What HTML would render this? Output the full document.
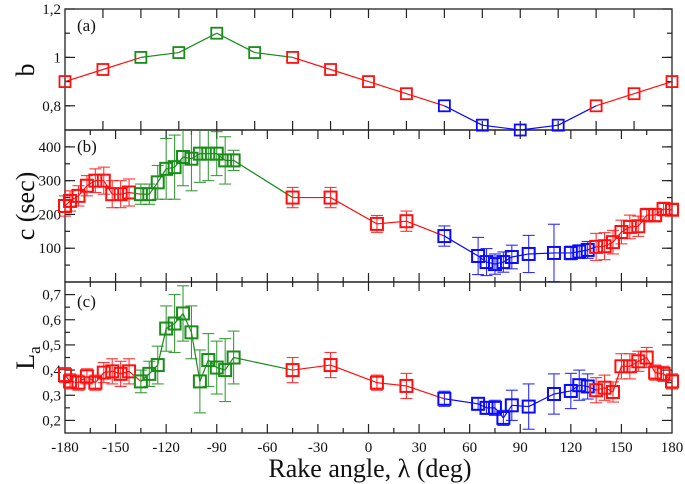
<!DOCTYPE html>
<html><head><meta charset="utf-8"><style>
html,body{margin:0;padding:0;background:#fff;}
svg{display:block;font-family:"Liberation Serif",serif;}
</style></head><body>
<svg id="chart" width="685" height="484" viewBox="0 0 685 484"></svg>
<script>
// ---- data ----
const aAngles = [-180,-157.5,-135,-112.5,-90,-67.5,-45,-22.5,0,22.5,45,67.5,90,112.5,135,157.5,180];
const aValues = [0.9,0.95,1.0,1.02,1.1,1.02,1.0,0.95,0.9,0.85,0.8,0.72,0.7,0.72,0.8,0.85,0.9];
const aGroups = ['r','r','g','g','g','g','r','r','r','r','b','b','b','b','r','r','r'];

const bAngles = [-180,-177,-172,-167,-162,-157,-152,-147,-142,-135,-130,-125,-120,-115,-110,-105,-100,-95,-90,-85,-80,-45,-22.5,5,22.5,45,65,70,75,80,85,95,110,120,125,130,135,140,145,150,155,160,165,170,175,180];
const bValues = [225,240,255,285,300,300,260,260,265,260,260,295,335,340,370,365,380,380,380,360,360,250,250,172,180,136,77,59,53,59,74,83,86,86,90,95,104,106,118,148,163,165,198,198,216,214];
const bErrors = [30,30,30,30,35,40,40,40,40,30,30,50,90,95,85,95,85,80,65,70,30,30,30,25,30,30,55,40,30,30,35,55,85,20,20,25,40,40,35,35,35,30,20,20,20,15];
const bGroups = ['r','r','r','r','r','r','r','r','r','g','g','g','g','g','g','g','g','g','g','g','g','r','r','r','r','b','b','b','b','b','b','b','b','b','b','b','r','r','r','r','r','r','r','r','r','r'];

const cAngles = bAngles;
const cValues = [0.38,0.355,0.35,0.375,0.35,0.39,0.395,0.385,0.395,0.355,0.385,0.42,0.565,0.585,0.625,0.55,0.355,0.44,0.41,0.40,0.45,0.40,0.42,0.35,0.337,0.286,0.266,0.25,0.25,0.21,0.26,0.255,0.305,0.317,0.34,0.335,0.32,0.33,0.313,0.415,0.415,0.435,0.45,0.39,0.385,0.355];
const cErrors = [0.03,0.03,0.03,0.03,0.03,0.04,0.05,0.05,0.05,0.045,0.05,0.075,0.09,0.115,0.11,0.105,0.125,0.105,0.105,0.125,0.105,0.05,0.05,0.03,0.05,0.03,0.025,0.025,0.03,0.03,0.06,0.09,0.08,0.07,0.06,0.05,0.05,0.05,0.04,0.05,0.05,0.04,0.04,0.03,0.03,0.03];
const cGroups = bGroups;

const xTickLabels = ['-180','-150','-120','-90','-60','-30','0','30','60','90','120','150','180'];
const aTickLabels = ['0,8','1','1,2'];
const bTickLabels = ['100','200','300','400'];
const cTickLabels = ['0,2','0,3','0,4','0,5','0,6','0,7'];

// ---- layout ----
const NS='http://www.w3.org/2000/svg';
const svg=document.getElementById('chart');
const L=65,R=672;
const colors={r:'#ff1010',g:'#1a8c1a',b:'#0a0aff'};
function x(v){return L+(v+180)/360*(R-L);}
function mk(tag,attrs,parent){const e=document.createElementNS(NS,tag);for(const k in attrs)e.setAttribute(k,attrs[k]);(parent||svg).appendChild(e);return e;}

const panels=[
 {top:9,bot:130,min:0.7,max:1.2,name:'panel-a'},
 {top:130,bot:282,min:0,max:450,name:'panel-b'},
 {top:282,bot:433,min:0.15,max:0.75,name:'panel-c'}
];
function yf(p){return v=>p.bot-(v-p.min)/(p.max-p.min)*(p.bot-p.top);}

function drawSeries(p,ang,val,err,grp,sz,sw,tag){
 const y=yf(p);
 const g=mk('g',{});
 
 
 for(let i=0;i<ang.length-1;i++){
  const ln=mk('line',{x1:x(ang[i]),y1:y(val[i]),x2:x(ang[i+1]),y2:y(val[i+1]),stroke:colors[grp[i]],'stroke-width':1.2},g);
  
  
 }
 for(let i=0;i<ang.length;i++){
  const c=colors[grp[i]],cx=x(ang[i]),cy=y(val[i]);
  if(err){
   const t=Math.max(p.top,y(val[i]+err[i])),b=Math.min(p.bot,y(val[i]-err[i]));
   const eg=mk('g',{stroke:c,'stroke-width':1.1,opacity:0.85},g);
   
   
   mk('line',{x1:cx,y1:t,x2:cx,y2:b},eg);
   if(y(val[i]+err[i])>=p.top) mk('line',{x1:cx-6,y1:t,x2:cx+6,y2:t},eg);
   mk('line',{x1:cx-6,y1:b,x2:cx+6,y2:b},eg);
  }
  const r=mk('rect',{x:cx-sz/2,y:cy-sz/2,width:sz,height:sz,fill:'none',stroke:c,'stroke-width':sw},g);
  
  
 }
}

panels.forEach((p,pi)=>{
 const f=mk('rect',{x:L,y:p.top,width:R-L,height:p.bot-p.top,fill:'none',stroke:'#222','stroke-width':1.3});
 
 
 const step=pi===0?22.5:15;
 for(let a=-180+step;a<180;a+=step){
  const major=pi===0?true:(a%30===0);
  const len=major?9:5;
  mk('line',{x1:x(a),y1:p.top,x2:x(a),y2:p.top+len,stroke:'#222','stroke-width':1.2});
  mk('line',{x1:x(a),y1:p.bot,x2:x(a),y2:p.bot-len,stroke:'#222','stroke-width':1.2});
 }
});
function yTicks(p,vals,labels,minorStep){
 const y=yf(p);
 for(let v=p.min;v<=p.max+1e-9;v+=minorStep){
  const yy=y(v); if(yy<p.top+1||yy>p.bot-1) continue;
  mk('line',{x1:L,y1:yy,x2:L+5,y2:yy,stroke:'#222','stroke-width':1.2});
  mk('line',{x1:R,y1:yy,x2:R-5,y2:yy,stroke:'#222','stroke-width':1.2});
 }
 vals.forEach((v,i)=>{
  const yy=y(v);
  mk('line',{x1:L,y1:yy,x2:L+10,y2:yy,stroke:'#222','stroke-width':1.2});
  mk('line',{x1:R,y1:yy,x2:R-10,y2:yy,stroke:'#222','stroke-width':1.2});
  const t=mk('text',{x:L-4,y:yy+5,'text-anchor':'end','font-size':15,fill:'#111'});
  t.textContent=labels[i];
  
  
 });
}
yTicks(panels[0],[0.8,1.0,1.2],aTickLabels,0.1);
yTicks(panels[1],[100,200,300,400],bTickLabels,50);
yTicks(panels[2],[0.2,0.3,0.4,0.5,0.6,0.7],cTickLabels,0.1);

xTickLabels.forEach(s=>{
 const t=mk('text',{x:x(+s),y:452,'text-anchor':'middle','font-size':15,fill:'#111'});
 t.textContent=s;
 
 
});

drawSeries(panels[0],aAngles,aValues,null,aGroups,11,1.8,'b');
drawSeries(panels[1],bAngles,bValues,bErrors,bGroups,12,2,'c');
drawSeries(panels[2],cAngles,cValues,cErrors,cGroups,12,2,'la');
</script>
<div style="position:absolute;left:0;top:0;width:685px;height:484px;pointer-events:none;">
<svg width="685" height="484" style="position:absolute;left:0;top:0;font-family:'Liberation Serif',serif;">
 <text x="77" y="31" font-size="17" fill="#111">(a)</text>
 <text x="77" y="152" font-size="17" fill="#111">(b)</text>
 <text x="77" y="307" font-size="17" fill="#111">(c)</text>
 <text transform="translate(34,70) rotate(-90)" text-anchor="middle" font-size="26" fill="#111">b</text>
 <text transform="translate(34,206) rotate(-90)" text-anchor="middle" font-size="26" fill="#111">c (sec)</text>
 <text transform="translate(34,358) rotate(-90)" text-anchor="middle" font-size="26" fill="#111">L<tspan font-size="17" dy="6">a</tspan></text>
 <text x="370" y="477" text-anchor="middle" font-size="26" fill="#111">Rake angle, λ (deg)</text>
</svg>
</div>
</body></html>
